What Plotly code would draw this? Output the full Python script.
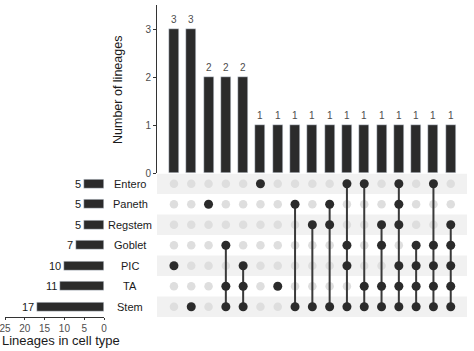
import plotly.graph_objects as go

sets = ["Entero", "Paneth", "Regstem", "Goblet", "PIC", "TA", "Stem"]
set_sizes = [5, 5, 5, 7, 10, 11, 17]
intersections = [
    ["PIC"],
    ["Stem"],
    ["Paneth"],
    ["Goblet", "TA", "Stem"],
    ["PIC", "TA", "Stem"],
    ["Entero"],
    ["TA"],
    ["Paneth", "Stem"],
    ["Regstem", "Stem"],
    ["Paneth", "Regstem", "Stem"],
    ["Entero", "Goblet", "PIC", "Stem"],
    ["Entero", "TA", "Stem"],
    ["Regstem", "Goblet", "TA", "Stem"],
    ["Entero", "Paneth", "Regstem", "PIC", "TA", "Stem"],
    ["Goblet", "PIC", "TA", "Stem"],
    ["Entero", "Goblet", "PIC", "TA", "Stem"],
    ["Regstem", "Goblet", "PIC", "TA", "Stem"],
]
intersection_counts = [3, 3, 2, 2, 2, 1, 1, 1, 1, 1, 1, 1, 1, 1, 1, 1, 1]

W, H = 474, 351
def px_x(p): return p / W
def px_y(p): return 1 - p / H

n_cols = len(intersections)
cols = list(range(1, n_cols + 1))
row_y = {s: len(sets) - i for i, s in enumerate(sets)}  # Entero top

DARK = "#2b2b2b"
FONT = "Liberation Sans, Arial, sans-serif"

fig = go.Figure()

# stripes
for i, s in enumerate(sets):
    if i % 2 == 0:
        fig.add_shape(type="rect", xref="x", yref="y2",
                      x0=0.02, x1=17.94, y0=row_y[s] - 0.5, y1=row_y[s] + 0.5,
                      fillcolor="#f1f1f1", line_width=0, layer="below")

# top bars
fig.add_trace(go.Bar(x=cols, y=intersection_counts, xaxis="x", yaxis="y",
                     marker_color=DARK, width=0.58, showlegend=False))
for c, v in zip(cols, intersection_counts):
    fig.add_annotation(x=c, y=v, xref="x", yref="y", text=str(v),
                       showarrow=False, xanchor="center", yanchor="bottom",
                       yshift=2, font=dict(size=10, color="#4d4d4d", family=FONT))

# matrix
gx, gy, dx, dy = [], [], [], []
lx, ly = [], []
for c, members in zip(cols, intersections):
    ys = [row_y[s] for s in members]
    for s in sets:
        if s in members:
            dx.append(c); dy.append(row_y[s])
        else:
            gx.append(c); gy.append(row_y[s])
    if len(ys) > 1:
        lx += [c, c, None]
        ly += [min(ys), max(ys), None]

fig.add_trace(go.Scatter(x=gx, y=gy, mode="markers", xaxis="x", yaxis="y2",
                         marker=dict(size=8.5, color="#dedede"), showlegend=False))
fig.add_trace(go.Scatter(x=lx, y=ly, mode="lines", xaxis="x", yaxis="y2",
                         line=dict(width=2, color="#3a3a3a"), showlegend=False))
fig.add_trace(go.Scatter(x=dx, y=dy, mode="markers", xaxis="x", yaxis="y2",
                         marker=dict(size=9, color=DARK), showlegend=False))

# set size bars
fig.add_trace(go.Bar(x=set_sizes, y=[row_y[s] for s in sets], orientation="h",
                     xaxis="x3", yaxis="y2", marker_color=DARK, width=0.45,
                     showlegend=False))
for s, v in zip(sets, set_sizes):
    fig.add_annotation(x=v, y=row_y[s], xref="x3", yref="y2", text=str(v),
                       showarrow=False, xanchor="right", yanchor="middle",
                       xshift=-1, font=dict(size=11, color="#1a1a1a", family=FONT))

# row labels
for s in sets:
    fig.add_annotation(x=px_x(130), y=row_y[s], xref="paper", yref="y2",
                       text=s, showarrow=False, xanchor="center", yanchor="middle",
                       font=dict(size=11, color="#1a1a1a", family=FONT))

fig.add_annotation(x=px_x(0), y=px_y(340), xref="paper", yref="paper",
                   text="Lineages in cell type", showarrow=False,
                   xanchor="left", yanchor="middle",
                   font=dict(size=13, color="#1a1a1a", family=FONT))
fig.add_annotation(x=px_x(118), y=px_y(90), xref="paper", yref="paper",
                   text="Number of lineages", showarrow=False, textangle=-90,
                   xanchor="center", yanchor="middle",
                   font=dict(size=12.5, color="#1a1a1a", family=FONT))

fig.update_layout(
    width=W, height=H, margin=dict(l=0, r=0, t=0, b=0, autoexpand=False),
    paper_bgcolor="white", plot_bgcolor="rgba(0,0,0,0)",
    font=dict(family=FONT),
    bargap=0,
    xaxis=dict(domain=[px_x(157), px_x(467)], range=[0.02, 17.94],
               showticklabels=False, showgrid=False, zeroline=False,
               showline=False, ticks="", anchor="y", automargin=False),
    yaxis=dict(domain=[px_y(173), px_y(5)], range=[0, 3.5],
               tickvals=[0, 1, 2, 3], ticks="outside", ticklen=3,
               tickcolor="#333333", showline=True, linecolor="#333333",
               linewidth=0.8, showgrid=False, zeroline=False,
               tickfont=dict(size=10, color="#4d4d4d", family=FONT),
               anchor="x", automargin=False),
    yaxis2=dict(domain=[px_y(317), px_y(173.5)], range=[0.5, 7.5],
                showticklabels=False, showgrid=False, zeroline=False,
                showline=False, ticks="", anchor="x", automargin=False),
    xaxis3=dict(domain=[px_x(5), px_x(104)], range=[25, 0],
                tickvals=[0, 5, 10, 15, 20, 25], ticks="outside", ticklen=2,
                tickcolor="#333333", showline=True, linecolor="#333333",
                linewidth=0.8, showgrid=False, zeroline=False,
                ticklabeloverflow="allow", automargin=False,
                tickfont=dict(size=10, color="#4d4d4d", family=FONT),
                anchor="y2"),
)

fig.write_html("out.html")
